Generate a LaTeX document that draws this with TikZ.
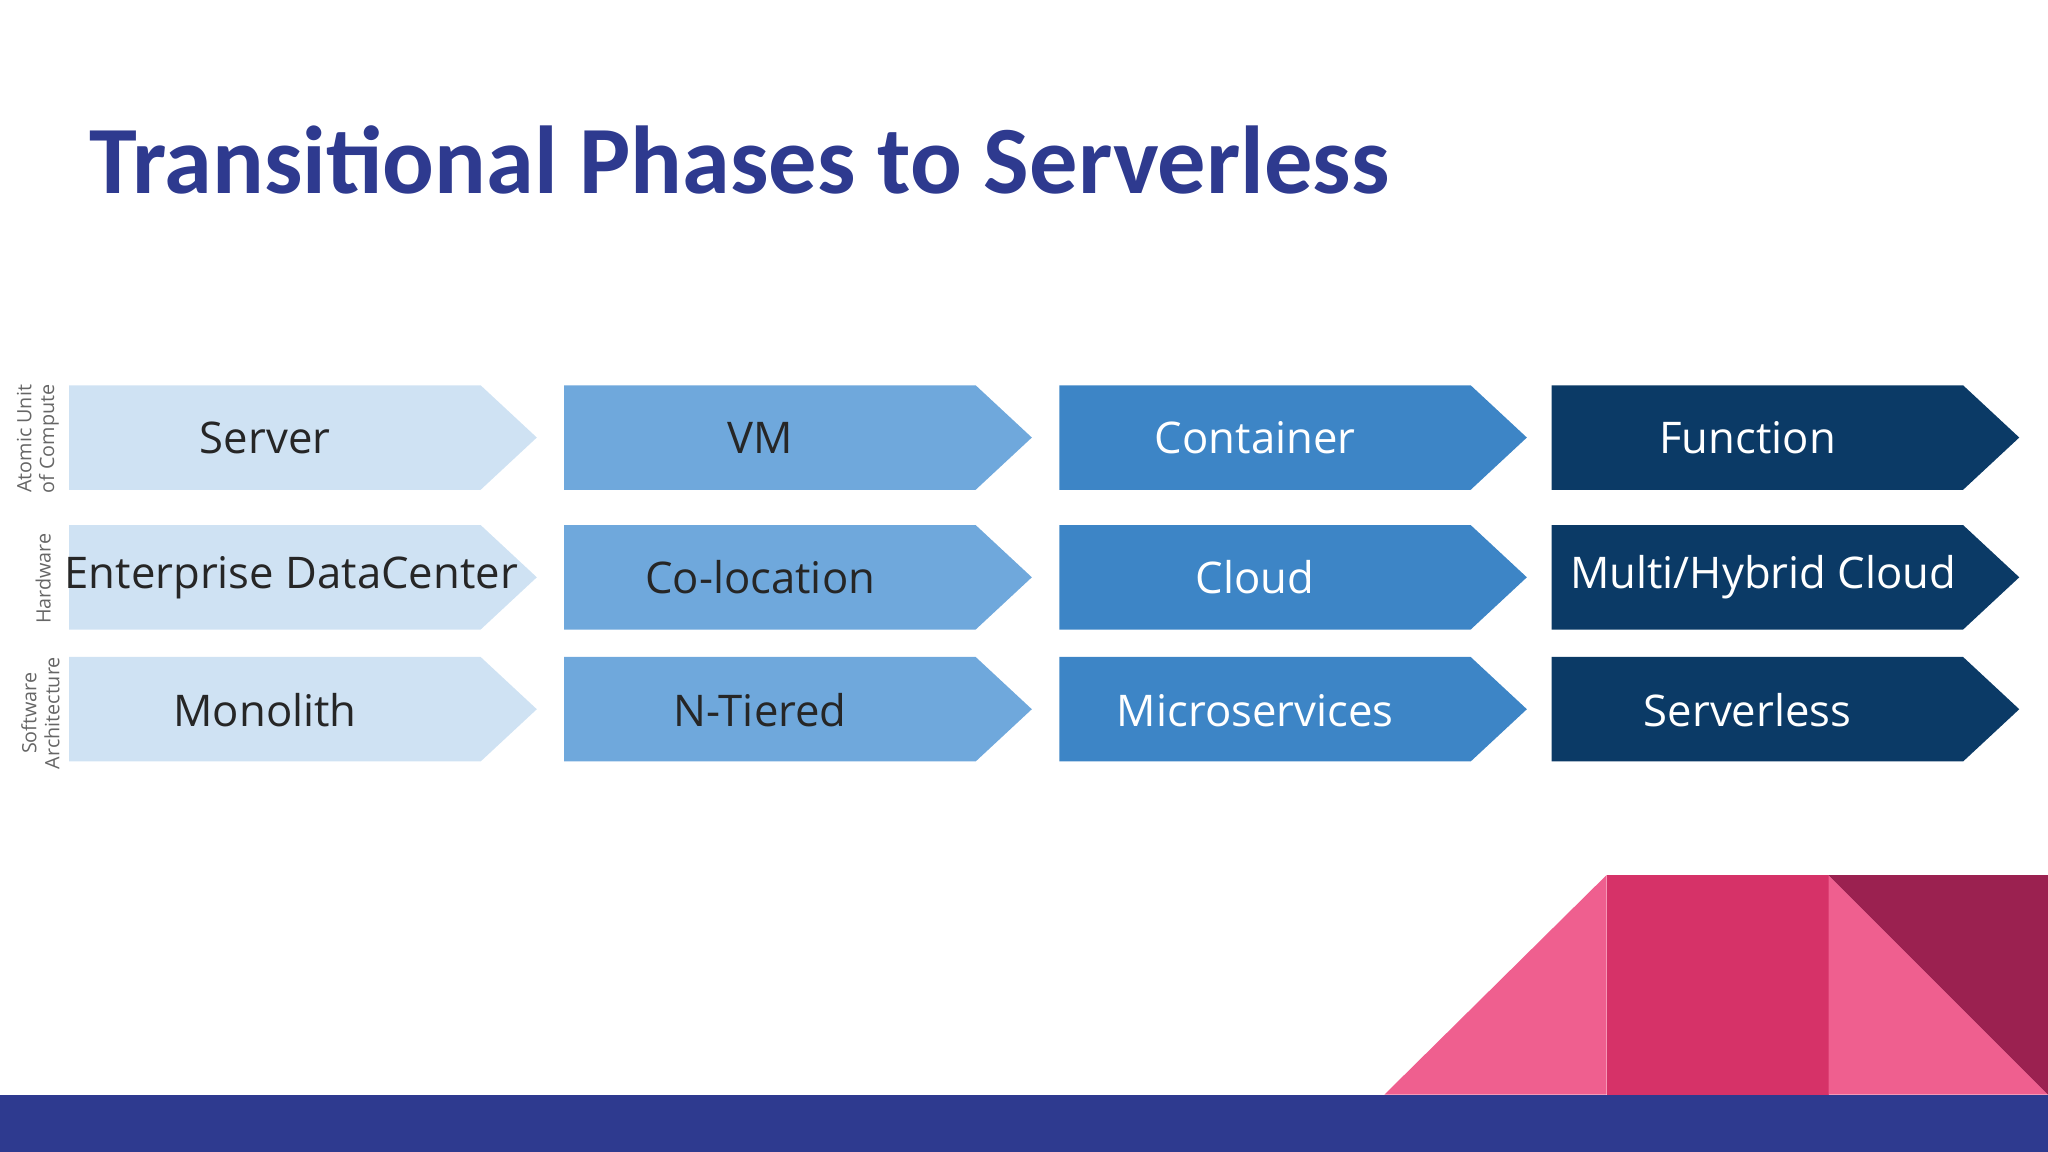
\documentclass[tikz,border=0pt]{standalone}
\usepackage{fontspec}
\setmainfont{Open Sans}
\newfontfamily\titlefont{Carlito}
\definecolor{navy}{HTML}{2E3A8F}
\definecolor{cA}{HTML}{CFE2F3}
\definecolor{cB}{HTML}{6FA8DC}
\definecolor{cC}{HTML}{3D85C6}
\definecolor{cD}{HTML}{0B3A66}
\definecolor{pinkL}{HTML}{EF5F8F}
\definecolor{pinkM}{HTML}{D63268}
\definecolor{pinkD}{HTML}{9B2150}
\begin{document}
\begin{tikzpicture}[x=0.01cm,y=-0.01cm,
  lbl/.style={font=\fontsize{9.5}{11}\selectfont},
  side/.style={font=\fontsize{4.3}{5}\selectfont,text=gray!80!black,rotate=90,align=center}]
\useasboundingbox (0,0) rectangle (1568,882);
\fill[navy] (0,838) rectangle (1568,882);
\fill[pinkL] (1060,838) -- (1230,670) -- (1230,838) -- cycle;
\fill[pinkM] (1230,670) rectangle (1400,838);
\fill[pinkL] (1400,670) -- (1568,838) -- (1400,838) -- cycle;
\fill[pinkD] (1400,670) -- (1568,670) -- (1568,838) -- cycle;
\node[anchor=base west,inner sep=0,text=navy,font=\titlefont\bfseries\fontsize{21}{24}\selectfont] (title) at (68,148) {Transitional Phases to Serverless};
\foreach \c/\x/\col in {0/53/cA,1/432/cB,2/811/cC,3/1188/cD}{
  \foreach \r/\y in {0/295,1/402,2/503}{
    \fill[\col] (\x,\y) -- (\x+315,\y) -- (\x+358,\y+40) -- (\x+315,\y+80) -- (\x,\y+80) -- cycle;
  }
}
\foreach \t/\x/\y/\tc in {Server/203/335/black!85,VM/582/335/black!85,Container/961/335/white,Function/1338/335/white,
  Enterprise DataCenter/223/442/black!85,Co-location/582/442/black!85,Cloud/961/442/white,{Multi/Hybrid Cloud}/1350/442/white,
  Monolith/203/544/black!85,N-Tiered/582/544/black!85,Microservices/961/544/white,Serverless/1338/544/white}{
  \node[lbl,text=\tc] at (\x,\y) {\t};
}
\node[side] (s1) at (29,336) {Atomic Unit\\of Compute};
\node[side] (s2) at (33,443) {Hardware};
\node[side] (s3) at (31,546) {Software\\Architecture};
\end{tikzpicture}
\end{document}
